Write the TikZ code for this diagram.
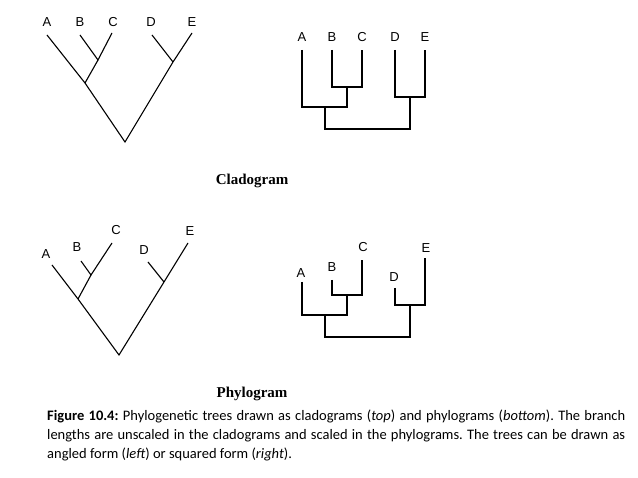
\documentclass[tikz,border=0pt]{standalone}
\usepackage{fontspec}
\setmainfont{Liberation Serif}
\newfontfamily\lab{Liberation Sans}
\newfontfamily\capf{Carlito}
\begin{document}
\begin{tikzpicture}[x=1pt,y=-1pt,
  br/.style={line width=1.1pt},
  lb/.style={font=\lab\fontsize{13}{13}\selectfont,inner sep=0pt},
  ttl/.style={font=\bfseries\fontsize{15}{15}\selectfont,inner sep=0pt}]
\useasboundingbox[fill=white] (0,0) rectangle (638,478);
% top-left angled cladogram
\coordinate (ta) at (47,35); \coordinate (tb) at (80,35); \coordinate (tc) at (112,33);
\coordinate (td) at (152,35); \coordinate (te) at (192,33);
\coordinate (tbc) at (98,60); \coordinate (tabc) at (85,83); \coordinate (tde) at (173,62);
\coordinate (tr) at (125,142);
\node[lb] (lta) at (47,22) {A}; \node[lb] (ltb) at (80,22) {B}; \node[lb] (ltc) at (113,22) {C};
\node[lb] (ltd) at (151,22) {D}; \node[lb] (lte) at (192,22) {E};
\draw[br] (ta) -- (tabc) -- (tr) -- (tde) -- (te);
\draw[br] (tb) -- (tbc) -- (tc); \draw[br] (tbc) -- (tabc); \draw[br] (td) -- (tde);
% top-right squared cladogram
\node[lb] (lsa) at (302,37) {A}; \node[lb] (lsb) at (332,37) {B}; \node[lb] (lsc) at (362,37) {C};
\node[lb] (lsd) at (395,37) {D}; \node[lb] (lse) at (425,37) {E};
\draw[br] (332,50) |- (347,87) -| (362,50);
\draw[br] (302,50) |- (325,107) -- (347,107) -- (347,87);
\draw[br] (395,50) |- (410,97) -| (425,50);
\draw[br] (325,107) |- (410,129) -- (410,97);
\node[ttl] (clad) at (252,181) {Cladogram};
% bottom-left angled phylogram
\coordinate (pa) at (52,265); \coordinate (pb) at (81,261); \coordinate (pc) at (112,243);
\coordinate (pd) at (148,262); \coordinate (pe) at (188,243);
\coordinate (pbc) at (91,275); \coordinate (pabc) at (78,299); \coordinate (pde) at (164,282);
\coordinate (pr) at (119,355);
\node[lb] (lpa) at (46,254) {A}; \node[lb] (lpb) at (77,247) {B}; \node[lb] (lpc) at (116,230) {C};
\node[lb] (lpd) at (144,250) {D}; \node[lb] (lpe) at (190,231) {E};
\draw[br] (pa) -- (pabc) -- (pr) -- (pde) -- (pe);
\draw[br] (pb) -- (pbc) -- (pc); \draw[br] (pbc) -- (pabc); \draw[br] (pd) -- (pde);
% bottom-right squared phylogram
\node[lb] (lqa) at (301,273) {A}; \node[lb] (lqb) at (332,267) {B}; \node[lb] (lqc) at (363,247) {C};
\node[lb] (lqd) at (394,277) {D}; \node[lb] (lqe) at (426,248) {E};
\draw[br] (332,280) |- (347,295) -| (362,260);
\draw[br] (302,282) |- (325,315) -- (347,315) -- (347,295);
\draw[br] (395,288) |- (410,305) -| (425,258);
\draw[br] (325,315) |- (410,337) -- (410,305);
\node[ttl] (phyl) at (252,394) {Phylogram};
\node[anchor=north west,inner sep=0pt,text width=578pt,align=justify,
  font=\capf\fontsize{14.5}{19}\selectfont\frenchspacing] (cap) at (47,410)
 {\textbf{Figure 10.4:} Phylogenetic trees drawn as cladograms (\textit{top}) and phylograms (\textit{bottom}). The branch lengths are unscaled in the cladograms and scaled in the phylograms. The trees can be drawn as angled form (\textit{left}) or squared form (\textit{right}).};
\end{tikzpicture}
\end{document}
